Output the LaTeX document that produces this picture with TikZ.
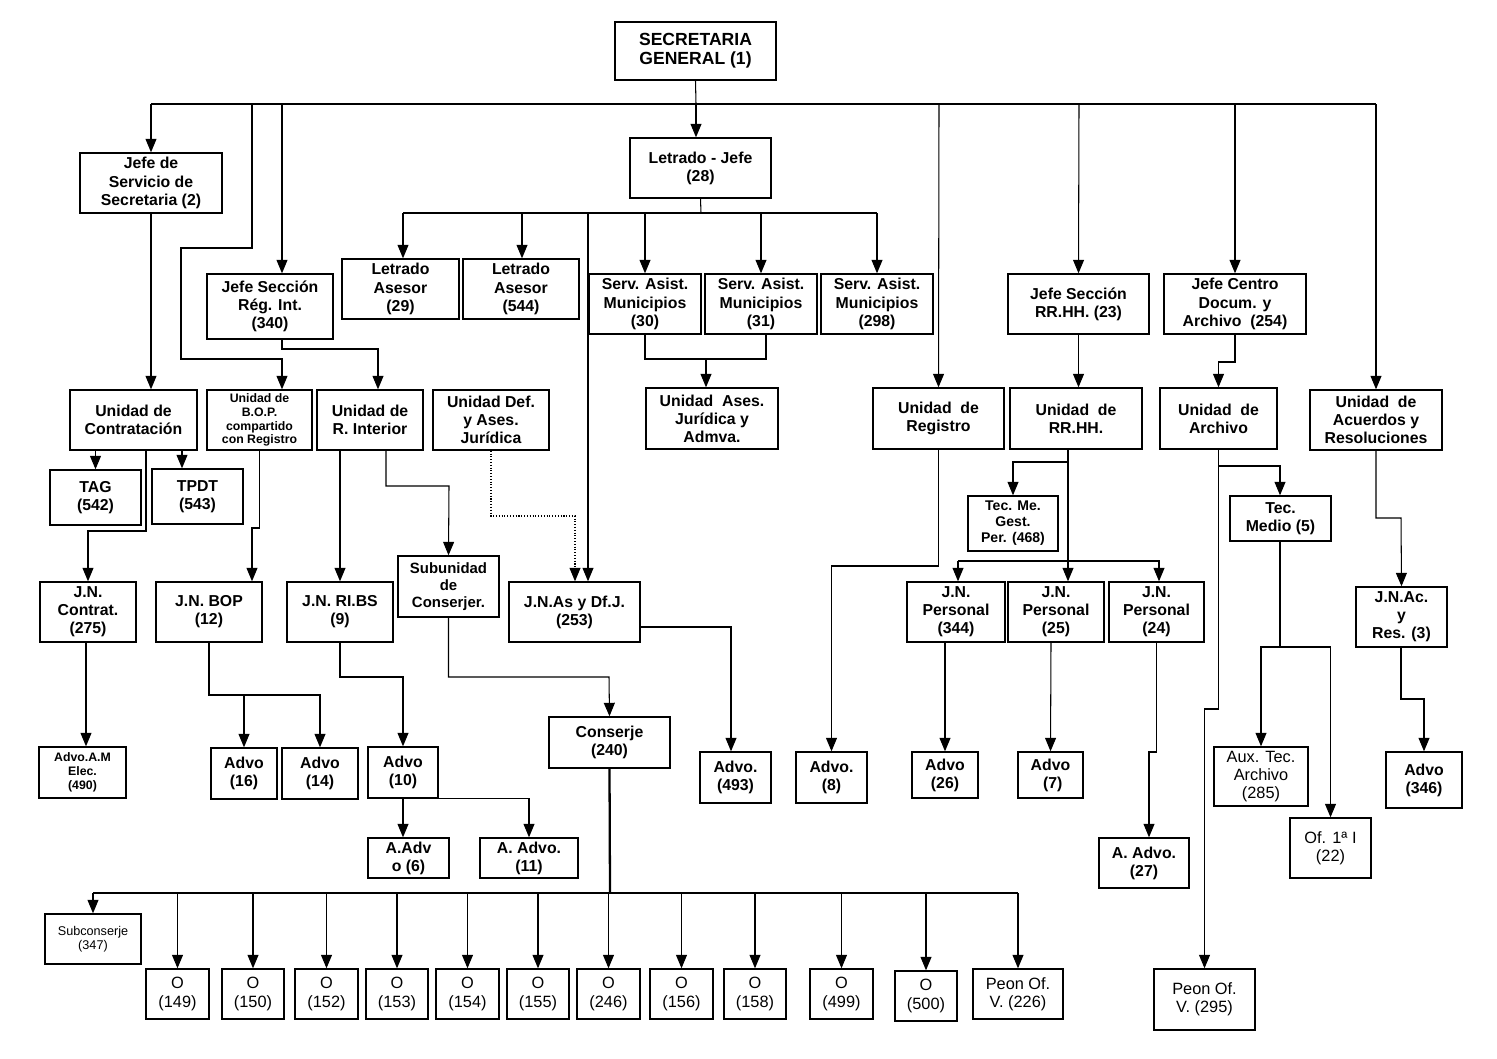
\documentclass[tikz,border=0pt]{standalone}
\usepackage{fontspec}
\setmainfont{Liberation Sans}
\usetikzlibrary{arrows.meta}
\newcommand\obox[7]{%
  \pgfmathsetmacro\obw{(#4-#2)*0.02}%
  \pgfmathsetmacro\obh{(#5-#3)*0.02}%
  \node[box,minimum width=\obw cm,minimum height=\obh cm,#6] (#1) at ({(#2+#4)/2},{(#3+#5)/2}) {#7};}
\tikzset{
  box/.style={draw,line width=0.8pt,inner sep=0pt,align=center,font=\bfseries\fontsize{9}{10.3}\selectfont},
  bigbold/.style={font=\bfseries\fontsize{10}{11}\selectfont},
  smallbold/.style={font=\bfseries\fontsize{7}{7.9}\selectfont},
  medbold/.style={font=\bfseries\fontsize{8}{9.1}\selectfont},
  subbold/.style={font=\bfseries\fontsize{8.5}{9.5}\selectfont},
  plainbox/.style={font=\fontsize{9.3}{10.4}\selectfont},
  plainsmall/.style={font=\fontsize{7.2}{8.1}\selectfont},
  arr/.style={-{Triangle[width=0.22cm,length=0.27cm]}},
  thickln/.style={line width=1.3pt}
}
\begin{document}
\begin{tikzpicture}[x=0.02cm,y=-0.02cm,line width=0.6pt]
\useasboundingbox (0,0) rectangle (1497,1058);
% ---------- nodes ----------
\obox{sg}{615}{22}{776}{80}{bigbold}{SECRETARIA\\GENERAL (1)}
\obox{js2}{80}{153}{222}{213}{}{Jefe de\\Servicio de\\Secretaria (2)}
\obox{lj}{630}{138}{771}{198}{}{Letrado - Jefe\\(28)}
\obox{jsri}{207}{274}{333}{339}{}{Jefe Sección\\Rég. Int.\\(340)}
\obox{la29}{342}{259}{459}{319}{}{Letrado\\Asesor\\(29)}
\obox{la544}{463}{259}{579}{319}{}{Letrado\\Asesor\\(544)}
\obox{sam30}{589}{274}{701}{334}{}{Serv. Asist.\\Municipios\\(30)}
\obox{sam31}{705}{274}{817}{334}{}{Serv. Asist.\\Municipios\\(31)}
\obox{sam298}{821}{274}{933}{334}{}{Serv. Asist.\\Municipios\\(298)}
\obox{jsrrhh}{1008}{274}{1149}{334}{}{Jefe Sección\\RR.HH. (23)}
\obox{jcda}{1164}{274}{1306}{334}{}{Jefe Centro\\Docum. y\\Archivo~ (254)}
\obox{ucon}{70}{390}{197}{450}{}{Unidad de\\Contratación}
\obox{ubop}{207}{390}{312}{450}{smallbold}{Unidad de\\B.O.P.\\compartido\\con Registro}
\obox{uri}{317}{390}{423}{450}{}{Unidad de\\R. Interior}
\obox{udef}{433}{390}{549}{450}{}{Unidad Def.\\y Ases.\\Jurídica}
\obox{uaja}{646}{388}{778}{449}{}{Unidad~ Ases.\\Jurídica y\\Admva.}
\obox{ureg}{873}{388}{1004}{449}{}{Unidad~ de\\Registro}
\obox{urrhh}{1010}{388}{1142}{449}{}{Unidad~ de\\RR.HH.}
\obox{uarch}{1160}{388}{1277}{449}{}{Unidad~ de\\Archivo}
\obox{uacu}{1310}{390}{1442}{450}{}{Unidad~ de\\Acuerdos y\\Resoluciones}
\obox{tag}{50}{470}{141}{525}{}{TAG\\(542)}
\obox{tpdt}{152}{469}{243}{524}{}{TPDT\\(543)}
\obox{tecme}{968}{496}{1058}{551}{medbold}{Tec. Me.\\Gest.\\Per. (468)}
\obox{tecmed}{1230}{496}{1331}{541}{}{Tec.\\Medio (5)}
\obox{subu}{398}{556}{499}{617}{subbold}{Subunidad\\de\\Conserjer.}
\obox{jnc}{40}{582}{136}{642}{}{J.N.\\Contrat.\\(275)}
\obox{jnbop}{156}{582}{262}{642}{}{J.N. BOP\\(12)}
\obox{jnri}{287}{582}{393}{642}{}{J.N. RI.BS\\(9)}
\obox{jnas}{509}{582}{640}{642}{}{J.N.As y Df.J.\\(253)}
\obox{jnp344}{907}{582}{1005}{642}{}{J.N.\\Personal\\(344)}
\obox{jnp25}{1008}{582}{1104}{642}{}{J.N.\\Personal\\(25)}
\obox{jnp24}{1109}{582}{1204}{642}{}{J.N.\\Personal\\(24)}
\obox{jnac}{1356}{587}{1447}{647}{}{J.N.Ac.\\y\\Res. (3)}
\obox{conserje}{549}{717}{670}{768}{}{Conserje\\(240)}
\obox{advam}{39}{747}{126}{798}{smallbold}{Advo.A.M\\Elec.\\(490)}
\obox{a16}{211}{748}{277}{799}{}{Advo\\(16)}
\obox{a14}{282}{748}{358}{799}{}{Advo\\(14)}
\obox{a10}{368}{747}{438}{798}{}{Advo\\(10)}
\obox{a493}{700}{752}{771}{803}{}{Advo.\\(493)}
\obox{a8}{796}{752}{867}{803}{}{Advo.\\(8)}
\obox{a26}{912}{752}{978}{798}{}{Advo\\(26)}
\obox{a7}{1018}{752}{1083}{798}{}{Advo\\~(7)}
\obox{aux}{1214}{747}{1308}{806}{plainbox}{Aux. Tec.\\Archivo\\(285)}
\obox{a346}{1386}{752}{1462}{808}{}{Advo\\(346)}
\obox{of1}{1290}{818}{1371}{878}{plainbox}{Of. 1ª I\\(22)}
\obox{aa6}{368}{838}{449}{878}{}{A.Adv\\o (6)}
\obox{aa11}{480}{838}{578}{878}{}{A. Advo.\\(11)}
\obox{aa27}{1099}{838}{1189}{888}{}{A. Advo.\\(27)}
\obox{subc}{45}{914}{141}{964}{plainsmall}{Subconserje\\(347)}
\foreach \a/\b/\l in {146/209/149,222/284/150,295/358/152,366/428/153,436/499/154,507/569/155,577/640/246,650/713/156,724/786/158,810/873/499}{
  \obox{o\l}{\a}{969}{\b}{1019}{plainbox}{O\\(\l)}
}
\obox{o500}{895}{971}{957}{1021}{plainbox}{O\\(500)}
\obox{peon226}{973}{969}{1063}{1019}{plainbox}{Peon Of.\\V. (226)}
\obox{peon295}{1154}{969}{1255}{1030}{plainbox}{Peon Of.\\V. (295)}
% ---------- connectors ----------
\coordinate (bus) at (696,104);
\coordinate (busl) at (151,104);
\coordinate (busr) at (1376,104);
\draw (sg.south) -- (bus);
\draw (busl) -- (bus);
\draw[line width=0.8pt] (bus) -- (busr);
\draw[arr] (busl) -- (js2.north);
\draw[arr] (252,104) |- (181,248) |- (282,359) -- (282,0 |- ubop.north);
\draw[arr] (282,104) -- (282,0 |- jsri.north);
\draw[arr] (bus) -- (bus |- lj.north);
\draw[arr] (939,104) -- (ureg.north);
\draw[arr] (1079,104) -- (jsrrhh.north);
\draw[arr] (1235,104) -- (jcda.north);
\draw[arr] (busr) -- (uacu.north);
% Letrado-Jefe
\coordinate (ljb) at (701,213);
\draw (lj.south) -- (ljb);
\draw (403,213) -- (877,213);
\draw[arr] (403,213) -- (403,0 |- la29.north);
\draw[arr] (522,213) -- (522,0 |- la544.north);
\draw[arr] (645,213) -- (645,0 |- sam30.north);
\draw[arr] (761,213) -- (761,0 |- sam31.north);
\draw[arr] (877,213) -- (877,0 |- sam298.north);
\draw[arr] (588,213) -- (588,0 |- jnas.north);
\draw (sam30.south) -- (645,359) -- (766,359) -- (766,0 |- sam31.south);
\draw[arr] (706,359) -- (706,0 |- uaja.north);
% Reg. Int.
\draw[arr] (282,0 |- jsri.south) |- (378,349) -- (378,0 |- uri.north);
% Secretaria branch
\draw[arr] (js2.south) -- (js2.south |- ucon.north);
\draw[arr] (tag.north |- ucon.south) -- (tag.north);
\draw[arr] (182,0 |- ucon.south) -- (182,0 |- tpdt.north);
\draw[arr] (146,0 |- ucon.south) |- (88,531) -- (jnc.north);
\draw[arr] (ubop.south) |- (252,528) -- (252,0 |- jnbop.north);
\draw[arr] (340,0 |- uri.south) -- (jnri.north);
\draw[arr] (386,0 |- uri.south) |- (449,486) -- (subu.north);
\draw[arr,densely dotted] (udef.south) |- (575,516) -- (575,0 |- jnas.north);
\draw[arr] (jnas.east |- 0,627) -| (731,0 |- a493.north);
\draw[arr] (86,0 |- jnc.south) -- (86,0 |- advam.north);
\draw[arr] (jnbop.south) |- (a14.north |- 0,695) -- (a14.north);
\draw[arr] (a16.north |- 0,695) -- (a16.north);
\draw[arr] (jnri.south) |- (403,677) -- (a10.north);
\draw[arr] (subu.south) |- (609,677) -- (conserje.north);
\draw[arr] (a10.south) -- (a10.south |- aa6.north);
\draw[arr] (a10.south east) -| (aa11.north);
% Conserje bus
\coordinate (bus2) at (610,893);
\draw[thickln] (conserje.south) -- (bus2);
\draw[thickln] (93,893) -- (bus2);
\draw (bus2) -- (1018,893);
\foreach \n in {subc,o149,o150,o152,o153,o154,o155,o246,o156,o158,o499,o500,peon226}{
  \draw[arr] (\n.north |- bus2) -- (\n.north);
}
% Registro
\draw[arr] (ureg.south) |- (a8.north |- 0,566) -- (a8.north);
% RR.HH.
\draw[arr] (jsrrhh.south) -- (jsrrhh.south |- urrhh.north);
\draw[arr] (1068,0 |- urrhh.south) |- (tecme.north |- 0,462) -- (tecme.north);
\draw[arr] (1068,0 |- urrhh.south) -- (1068,0 |- jnp25.north);
\draw[arr] (958,561) -- (958,0 |- jnp344.north);
\draw[arr] (958,561) -| (1159,0 |- jnp24.north);
\draw[arr] (945,0 |- jnp344.south) -- (a26.north);
\draw[arr] (1051,0 |- jnp25.south) -- (a7.north);
\draw[arr] (jnp24.south) |- (1149,752) -- (1149,0 |- aa27.north);
% Archivo
\draw[arr] (jcda.south) |- (uarch.north |- 0,362) -- (uarch.north);
\draw[arr] (uarch.south) |- (1280,466) -- (1280,0 |- tecmed.north);
\draw[arr] (uarch.south) |- (peon295.north |- 0,709) -- (peon295.north);
\draw (1280,0 |- tecmed.south) -- (1280,647);
\draw[arr] (1280,647) -| (aux.north);
\draw[arr] (1280,647) -| (of1.north);
% Acuerdos
\draw[arr] (uacu.south) |- (1401,518) -- (jnac.north);
\draw[arr] (1401,0 |- jnac.south) |- (1424,699) -- (a346.north);
\end{tikzpicture}
\end{document}
